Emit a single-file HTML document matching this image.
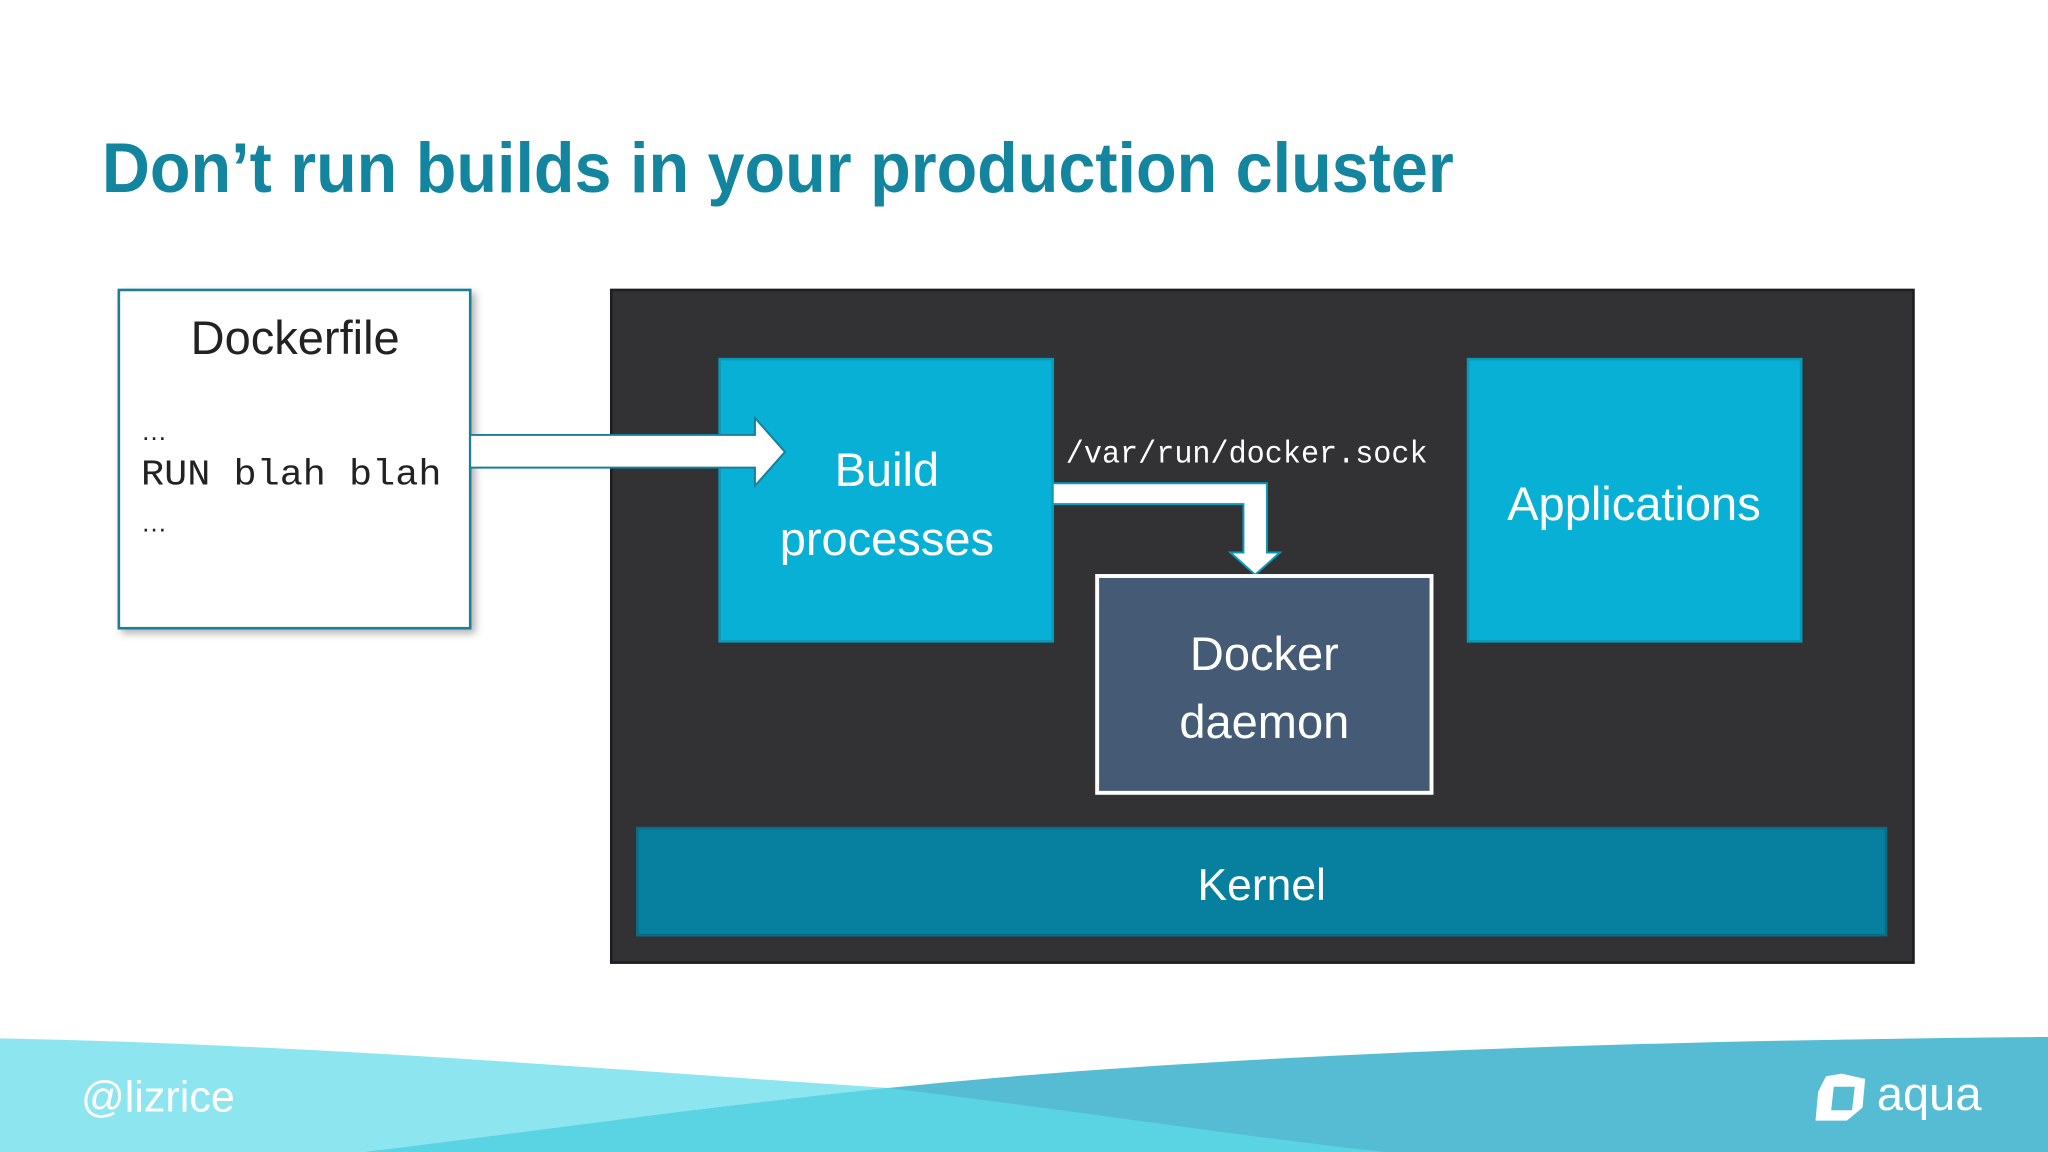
<!DOCTYPE html>
<html><head><meta charset="utf-8"><style>html,body{margin:0;padding:0;background:#fff}svg{display:block}</style></head>
<body>
<svg width="2048" height="1152" viewBox="0 0 1568 882" xmlns="http://www.w3.org/2000/svg">
<defs>
<filter id="sh" x="-10%" y="-10%" width="130%" height="130%"><feDropShadow dx="3" dy="3" stdDeviation="3" flood-color="#000" flood-opacity="0.3"/></filter>
<clipPath id="lc"><path d="M0,795 C250,800 480,820 680,833 C820,850 950,870 1060,882 L0,882 Z"/></clipPath>
</defs>
<rect width="1568" height="882" fill="#fff"/>
<text x="78" y="147" font-family="Liberation Sans, sans-serif" font-weight="bold" font-size="54" fill="#13859f" textLength="1035" lengthAdjust="spacingAndGlyphs">Don’t run builds in your production cluster</text>

<rect x="91" y="222" width="269" height="259" fill="#fff" stroke="#1a7f9a" stroke-width="2" filter="url(#sh)"/>
<text x="226" y="271" text-anchor="middle" font-family="Liberation Sans, sans-serif" font-size="36" fill="#222">Dockerfile</text>
<text x="108" y="337" font-family="Liberation Sans, sans-serif" font-size="20" fill="#222">…</text>
<text x="108" y="371" font-family="Liberation Mono, monospace" font-size="28" fill="#222" textLength="230" lengthAdjust="spacingAndGlyphs">RUN blah blah</text>
<text x="108" y="407" font-family="Liberation Sans, sans-serif" font-size="20" fill="#222">…</text>

<rect x="468" y="222" width="997" height="515" fill="#323234" stroke="#1e1e20" stroke-width="2"/>

<rect x="551" y="275" width="255" height="216" fill="#08b0d5" stroke="#0a9ab8" stroke-width="2"/>
<text x="679" y="372" text-anchor="middle" font-family="Liberation Sans, sans-serif" font-size="36" fill="#fff">Build</text>
<text x="679" y="425" text-anchor="middle" font-family="Liberation Sans, sans-serif" font-size="36" fill="#fff">processes</text>

<path d="M360,333 L578,333 L578,320 L601,346 L578,372 L578,358 L360,358 Z" fill="#fff" stroke="#1a7f9a" stroke-width="1.5"/>

<rect x="1124" y="275" width="255" height="216" fill="#08b0d5" stroke="#0a9ab8" stroke-width="2"/>
<text x="1251" y="398" text-anchor="middle" font-family="Liberation Sans, sans-serif" font-size="36" fill="#fff">Applications</text>

<text x="816" y="354" font-family="Liberation Mono, monospace" font-size="24" fill="#fff" textLength="277" lengthAdjust="spacingAndGlyphs">/var/run/docker.sock</text>

<path d="M806,370 L970,370 L970,423 L980,423 L961,440 L942,423 L952,423 L952,386 L806,386 Z" fill="#fff" stroke="#0a9ab8" stroke-width="1.5"/>

<rect x="840" y="441" width="256" height="166" fill="#455a75" stroke="#fff" stroke-width="3"/>
<text x="968" y="513" text-anchor="middle" font-family="Liberation Sans, sans-serif" font-size="36" fill="#fff">Docker</text>
<text x="968" y="565" text-anchor="middle" font-family="Liberation Sans, sans-serif" font-size="36" fill="#fff">daemon</text>

<rect x="488" y="634" width="956" height="82" fill="#077f9e" stroke="#0a6d88" stroke-width="2"/>
<text x="966" y="689" text-anchor="middle" font-family="Liberation Sans, sans-serif" font-size="34" fill="#fff">Kernel</text>

<path d="M0,795 C250,800 480,820 680,833 C820,850 950,870 1060,882 L0,882 Z" fill="#8de6ef"/>
<path d="M1568,794 C1300,796 950,805 680,833 C520,850 380,870 280,882 L1568,882 Z" fill="#55bcd3"/>
<path d="M1568,794 C1300,796 950,805 680,833 C520,850 380,870 280,882 L1568,882 Z" fill="#5ad4e3" clip-path="url(#lc)"/>
<text x="62" y="851" font-family="Liberation Sans, sans-serif" font-size="33" fill="#fff">@lizrice</text>
<path d="M1398,824 L1410,822 L1428,826 L1426,848 L1414,858 L1390,858 L1392,836 Z" fill="#fff"/>
<path d="M1404,832 L1420,832 L1418,850 L1402,850 Z" fill="#55bcd3"/>
<text x="1437" y="850" font-family="Liberation Sans, sans-serif" font-size="36" fill="#fff">aqua</text>
</svg>
</body></html>
